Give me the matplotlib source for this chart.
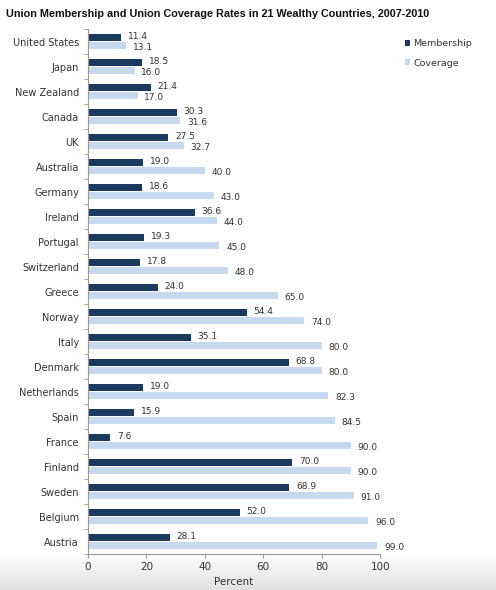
import numpy as np
import matplotlib
matplotlib.use("Agg")
import matplotlib.pyplot as plt
from matplotlib.colors import LinearSegmentedColormap

countries = ["United States", "Japan", "New Zealand", "Canada", "UK", "Australia",
             "Germany", "Ireland", "Portugal", "Switzerland", "Greece", "Norway",
             "Italy", "Denmark", "Netherlands", "Spain", "France", "Finland",
             "Sweden", "Belgium", "Austria"]
membership = [11.4, 18.5, 21.4, 30.3, 27.5, 19.0, 18.6, 36.6, 19.3, 17.8, 24.0,
              54.4, 35.1, 68.8, 19.0, 15.9, 7.6, 70.0, 68.9, 52.0, 28.1]
coverage = [13.1, 16.0, 17.0, 31.6, 32.7, 40.0, 43.0, 44.0, 45.0, 48.0, 65.0,
            74.0, 80.0, 80.0, 82.3, 84.5, 90.0, 90.0, 91.0, 96.0, 99.0]
xticks = [0, 20, 40, 60, 80, 100]

c_mem = "#1c3a5e"
c_cov = "#c6d9ee"
txt = "#333333"

fig = plt.figure(figsize=(4.96, 5.90), dpi=100)

# grey fade at the bottom (white -> light grey)
bg = fig.add_axes([0, 0, 1, 0.065], zorder=0)
fade = LinearSegmentedColormap.from_list("fade", ["#ffffff", "#e2e2e2"])
grad = np.linspace(0, 1, 60).reshape(-1, 1)
bg.imshow(grad, aspect="auto", cmap=fade, vmin=0, vmax=1, extent=[0, 1, 0, 1])
bg.axis("off")

ax = fig.add_axes([0.1774, 0.061, 0.589, 0.8898], zorder=1)
ax.patch.set_alpha(0)

y = np.arange(len(countries))
h = 0.28
ax.barh(y - 0.17, membership, height=h, color=c_mem, label="Membership")
ax.barh(y + 0.17, coverage, height=h, color=c_cov, label="Coverage")

for i in range(len(countries)):
    ax.text(membership[i] + 2.3, y[i] - 0.2, f"{membership[i]:.1f}", va="center",
            ha="left", fontsize=6.5, color=txt)
    ax.text(coverage[i] + 2.3, y[i] + 0.25, f"{coverage[i]:.1f}", va="center",
            ha="left", fontsize=6.5, color=txt)

ax.set_ylim(len(countries) - 0.5, -0.5)
ax.set_xlim(0, 100)
ax.set_yticks(y)
ax.set_yticklabels(countries)
ax.set_yticks(np.arange(len(countries) + 1) - 0.5, minor=True)
ax.tick_params(axis="y", which="major", length=0, pad=6.5, labelsize=7, labelcolor=txt)
ax.tick_params(axis="y", which="minor", length=3, color="#999999")
ax.set_xticks(xticks)
ax.tick_params(axis="x", length=3, color="#999999", labelsize=7.5, labelcolor=txt, pad=3)
ax.set_xlabel("Percent", fontsize=7.5, color=txt, labelpad=3)

for s in ["top", "right"]:
    ax.spines[s].set_visible(False)
for s in ["left", "bottom"]:
    ax.spines[s].set_color("#999999")
    ax.spines[s].set_linewidth(0.8)

fig.legend(loc="upper left", bbox_to_anchor=(0.8, 0.948), frameon=False,
           fontsize=6.8, handlelength=0.55, handleheight=0.55, handletextpad=0.3,
           labelspacing=1.1, labelcolor=txt)

fig.text(0.012, 0.977, "Union Membership and Union Coverage Rates in 21 Wealthy Countries, 2007-2010",
         fontsize=7.8, fontweight="bold", family="Liberation Sans", color="#111111",
         va="center", ha="left")

fig.savefig("out.png", dpi=100)
